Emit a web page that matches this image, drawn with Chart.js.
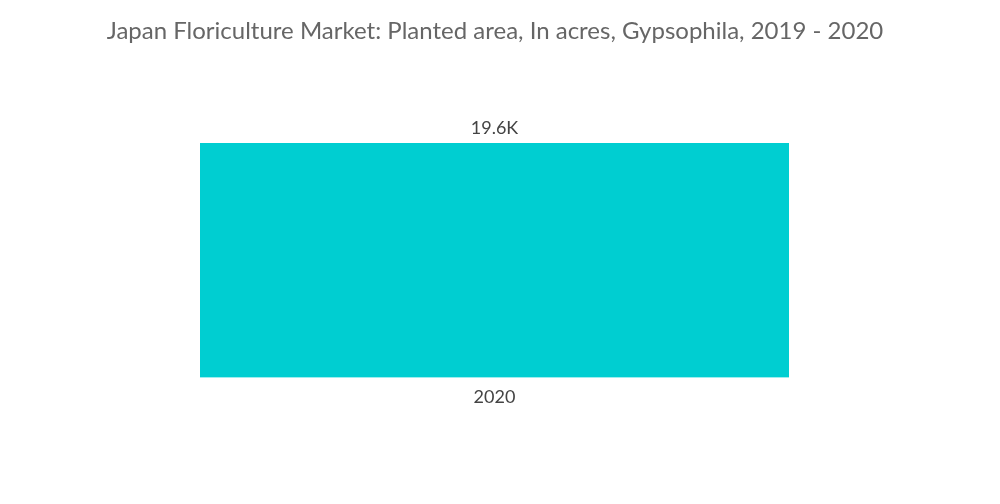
<!DOCTYPE html>
<html><head><meta charset="utf-8">
<script src="https://cdn.jsdelivr.net/npm/chart.js@4"></script>
<style>
body{margin:0;background:#fff;}
#wrap{position:relative;width:1000px;height:504px;}
#title{position:absolute;top:15px;left:-5px;width:1000px;text-align:center;font:24px Lato,sans-serif;color:#666;}
</style></head><body>
<div id="wrap"><div id="title">Japan Floriculture Market: Planted area, In acres, Gypsophila, 2019 - 2020</div>
<canvas id="c" width="1000" height="504"></canvas></div>
<script>
const categories = ['2020'];
const values = [19.6];
const valueLabels = ['19.6K'];

const labelPlugin = {
  id: 'vals',
  afterDatasetsDraw(chart) {
    const ctx = chart.ctx;
    chart.getDatasetMeta(0).data.forEach((bar, i) => {
      ctx.save();
      ctx.font = '18px Lato, sans-serif';
      ctx.fillStyle = '#444';
      ctx.textAlign = 'center';
      ctx.textBaseline = 'bottom';
      ctx.fillText(valueLabels[i], bar.x, bar.y - 6);
      ctx.restore();
    });
  }
};

new Chart(document.getElementById('c'), {
  type: 'bar',
  data: { labels: categories, datasets: [{ data: values, backgroundColor: '#00ced1', barPercentage: 1, categoryPercentage: 1 }] },
  options: {
    responsive: false, animation: false,
    layout: { padding: { top: 143, left: 200, right: 211, bottom: 95 } },
    plugins: { legend: { display: false }, tooltip: { enabled: false } },
    scales: {
      y: { display: false, min: 0, max: 19.6 },
      x: { grid: { display: false }, border: { display: false },
           ticks: { color: '#444', font: { family: 'Lato', size: 18 }, padding: 1 } }
    }
  },
  plugins: [labelPlugin]
});
</script></body></html>
